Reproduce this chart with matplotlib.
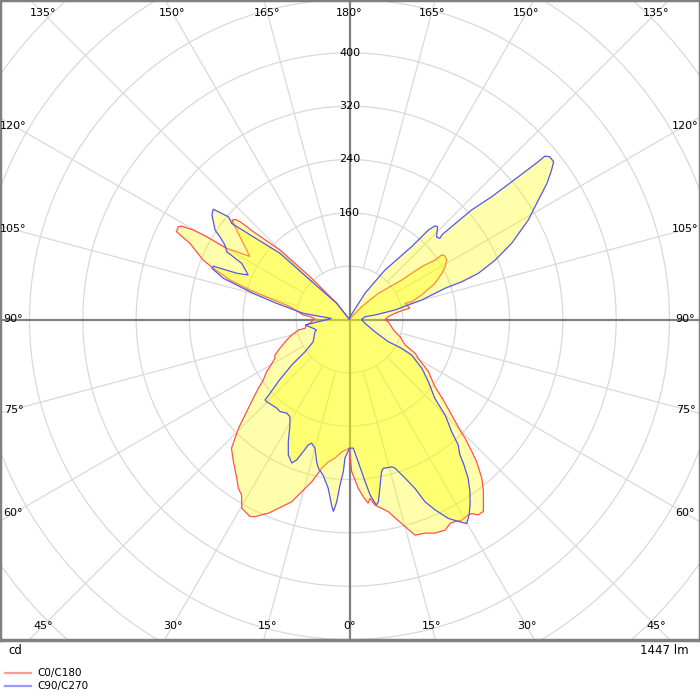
import numpy as np
import matplotlib
matplotlib.use("Agg")
import matplotlib.pyplot as plt
from matplotlib.patches import Circle, Polygon
from matplotlib.lines import Line2D

# Luminous intensity (cd) against gamma angle (deg, 0 = nadir)
# C0/C180 plane (red)
c0_gamma = [0, 0.8, 3.0, 4.5, 5.8, 6.5, 7.8, 11.4, 14.7, 16.9, 19.5, 21.8, 24.4, 26.3, 27.6,
            29.2, 31.3, 32.2, 33.4, 34.9, 37.9, 39.8, 41.8, 42.8, 44.2, 45.0, 46.9, 49.4, 51.8,
            56.5, 60.6, 62.7, 65.3, 71.2, 76.5, 86.8, 89.2, 94.1, 97.8, 100.0, 100.5, 106.3,
            106.0, 108.7, 112.9, 116.6, 118.9, 121.5, 123.6, 125.0, 124.8, 126.2, 127.1, 132.3,
            136.4, 141.8, 180]
c0_cd = [193, 228, 254, 267, 277, 270, 281, 294, 319, 338, 340, 345, 347, 341, 342,
         345, 343, 344, 351, 351, 327, 310, 286, 270, 249, 234, 210, 185, 163,
         142, 118, 111, 92, 80, 68, 58, 53, 58, 69, 82, 92, 87,
         97, 114, 139, 155, 164, 171, 172, 169, 156, 134, 98, 58,
         27, 5, 0]

c180_gamma = [0, 3.4, 6.0, 8.5, 10.6, 11.5, 13.1, 15.5, 17.6, 20.7, 22.7, 24.2, 25.6, 26.8, 27.9,
              29.7, 31.6, 33.4, 35.4, 39.3, 42.5, 43.9, 45.6, 47.6, 50.0, 53.0, 54.9, 57.8, 59.3,
              62.5, 64.5, 67.5, 71.9, 75.0, 78.4, 78.8, 82.7, 84.5, 91.0, 94.1, 95.6, 102.1,
              104.9, 106.5, 108.3, 110.6, 112.1, 115.5, 116.9, 118.5, 119.1, 119.8, 120.1, 120.1,
              122.3, 129.6, 130.2, 131.2, 131.8, 132.4, 135.0, 137.3, 141.7, 180]
c180_cd = [193, 199, 209, 216, 227, 235, 250, 268, 287, 303, 315, 321, 328, 331, 329,
           326, 309, 303, 292, 275, 262, 248, 233, 212, 192, 171, 158, 147, 139,
           126, 124, 113, 99, 90, 78, 68, 65, 60, 52, 59, 70, 91,
           123, 156, 189, 218, 237, 265, 291, 292, 288, 270, 248, 213,
           177, 226, 231, 228, 220, 195, 147, 87, 31, 0]

# C90/C270 plane (blue)
c90_gamma = [0, 1.7, 3.5, 5.5, 6.7, 7.9, 8.3, 9.0, 10.2, 11.9, 12.8, 16.0, 17.0, 19.3, 21.2,
             22.5, 24.2, 26.4, 28.3, 29.9, 31.4, 33.0, 35.0, 36.8, 38.4, 39.2, 40.9, 42.3, 45.0,
             47.3, 51.7, 56.0, 60.3, 61.1, 60.2, 64.4, 76.2, 90.0, 100.2, 100.0, 101.8, 103.9,
             105.1, 108.1, 108.6, 109.7, 112.2, 115.2, 119.1, 122.3, 124.6, 126.5, 127.7, 129.1,
             129.9, 129.9, 130.2, 130.8, 131.9, 132.5, 131.9, 133.5, 136.5, 137.6, 138.6, 139.5,
             144.4, 149.4, 170, 180]
c90_cd = [193, 193, 214, 244, 265, 278, 281, 277, 257, 233, 229, 230, 233, 252, 272,
          296, 313, 333, 344, 353, 344, 332, 315, 297, 275, 262, 249, 228, 203,
          174, 151, 131, 107, 89, 67, 42, 24, 18, 24, 39, 70, 91,
          112, 151, 178, 205, 236, 269, 307, 335, 360, 377, 387, 387,
          382, 369, 332, 282, 246, 188, 182, 180, 192, 190, 179, 144,
          91, 46, 4, 0]

c270_gamma = [0, 1.9, 2.3, 3.3, 4.0, 4.8, 5.5, 7.2, 9.6, 11.8, 13.0, 15.0, 17.0, 18.2, 19.3,
              20.6, 21.9, 24.3, 26.6, 29.4, 31.5, 33.8, 37.0, 39.4, 45.2, 46.4, 47.1, 48.9, 51.8,
              54.1, 58.5, 70.5, 72.3, 76.3, 83.0, 93.2, 97.6, 102.5, 105.2, 108.1, 110.4, 111.4,
              112.3, 113.7, 117.5, 118.9, 120.9, 122.6, 123.6, 127.2, 129.0, 130.3, 129.2, 130.7,
              133.6, 135.0, 141.7, 180]
c270_cd = [193, 208, 228, 249, 274, 289, 280, 255, 237, 228, 219, 200, 194, 198, 210,
           225, 232, 223, 205, 182, 171, 169, 173, 172, 175, 175, 163, 142, 110,
           82, 64, 55, 52, 56, 67, 27, 70, 112, 150, 199, 220, 219,
           183, 166, 182, 210, 218, 231, 242, 259, 263, 238, 228, 190,
           144, 84, 31, 0]

ring_values = [80, 160, 240, 320, 400, 480, 560, 640, 720]
ring_labels = [160, 240, 320, 400]
angle_ticks = list(range(0, 181, 15))
flux_text = "1447 lm"
unit_text = "cd"
series_names = ["C0/C180", "C90/C270"]

RED = "#ff5050"
BLUE = "#5555ee"
GRID = "#d9d9d9"
AXIS = "#808080"


def plane_outline(g_right, i_right, g_left, i_left):
    gr = np.radians(g_right)
    gl = np.radians(g_left)[::-1]
    ir = np.asarray(i_right, float)
    il = np.asarray(i_left, float)[::-1]
    x = np.concatenate([ir * np.sin(gr), -il * np.sin(gl)])
    y = np.concatenate([-ir * np.cos(gr), -il * np.cos(gl)])
    return np.column_stack([x, y])


fig = plt.figure(figsize=(7, 7), dpi=100)
ax = fig.add_axes([0, 60 / 700, 1, 640 / 700])
ax.set_xlim(-524.25, 525.75)
ax.set_ylim(-480.75, 479.25)
ax.set_xticks([])
ax.set_yticks([])
for s in ax.spines.values():
    s.set_color(AXIS)
    s.set_linewidth(2.5)

# grid rings and spokes
for r in ring_values:
    ax.add_patch(Circle((0, 0), r, fill=False, ec=GRID, lw=0.9, zorder=1))
for a in range(0, 360, 15):
    if a % 90 == 0:
        continue
    t = np.radians(a)
    ax.plot([80 * np.sin(t), 900 * np.sin(t)], [-80 * np.cos(t), -900 * np.cos(t)],
            color=GRID, lw=0.9, zorder=1)
ax.axhline(0, color=AXIS, lw=1.6, zorder=2)
ax.axvline(0, color=AXIS, lw=1.6, zorder=2)

# curves
red_xy = plane_outline(c0_gamma, c0_cd, c180_gamma, c180_cd)
blue_xy = plane_outline(c90_gamma, c90_cd, c270_gamma, c270_cd)
ax.add_patch(Polygon(red_xy, closed=True, fc=(1, 1, 0, 0.33), ec="none", zorder=3))
ax.add_patch(Polygon(red_xy, closed=True, fill=False, ec=RED, lw=0.9, zorder=3))
ax.add_patch(Polygon(blue_xy, closed=True, fc=(1, 1, 0, 0.33), ec="none", zorder=4))
ax.add_patch(Polygon(blue_xy, closed=True, fill=False, ec=BLUE, lw=0.9, zorder=4))

# radial labels on the vertical axis
for v in ring_labels:
    ax.text(0, v, str(v), ha="center", va="center", fontsize=8, zorder=6)

# angle labels where the spokes meet an inset frame
xlim_in, ylim_in = 504, 460
for g in angle_ticks:
    sides = [1, -1] if 0 < g < 180 else [1]
    for side in sides:
        t = np.radians(g)
        dx, dy = side * np.sin(t), -np.cos(t)
        k = min(xlim_in / abs(dx) if abs(dx) > 1e-9 else 1e9,
                ylim_in / abs(dy) if abs(dy) > 1e-9 else 1e9)
        ax.text(k * dx, k * dy, f"{g}\u00b0", ha="center", va="center", fontsize=8, zorder=6)

# footer texts and legend
fig.text(8 / 700, 1 - 650 / 700, unit_text, ha="left", va="center", fontsize=8.5)
fig.text(689 / 700, 1 - 650 / 700, flux_text, ha="right", va="center", fontsize=8.5)
for name, col, ypx in [(series_names[0], "#ff9a9a", 673), (series_names[1], "#9a9aff", 686)]:
    yy = 1 - ypx / 700
    fig.add_artist(Line2D([5 / 700, 31 / 700], [yy, yy], color=col, lw=1.6))
    fig.text(37 / 700, yy, name, ha="left", va="center", fontsize=7.5)

fig.savefig("out.png", dpi=100)
